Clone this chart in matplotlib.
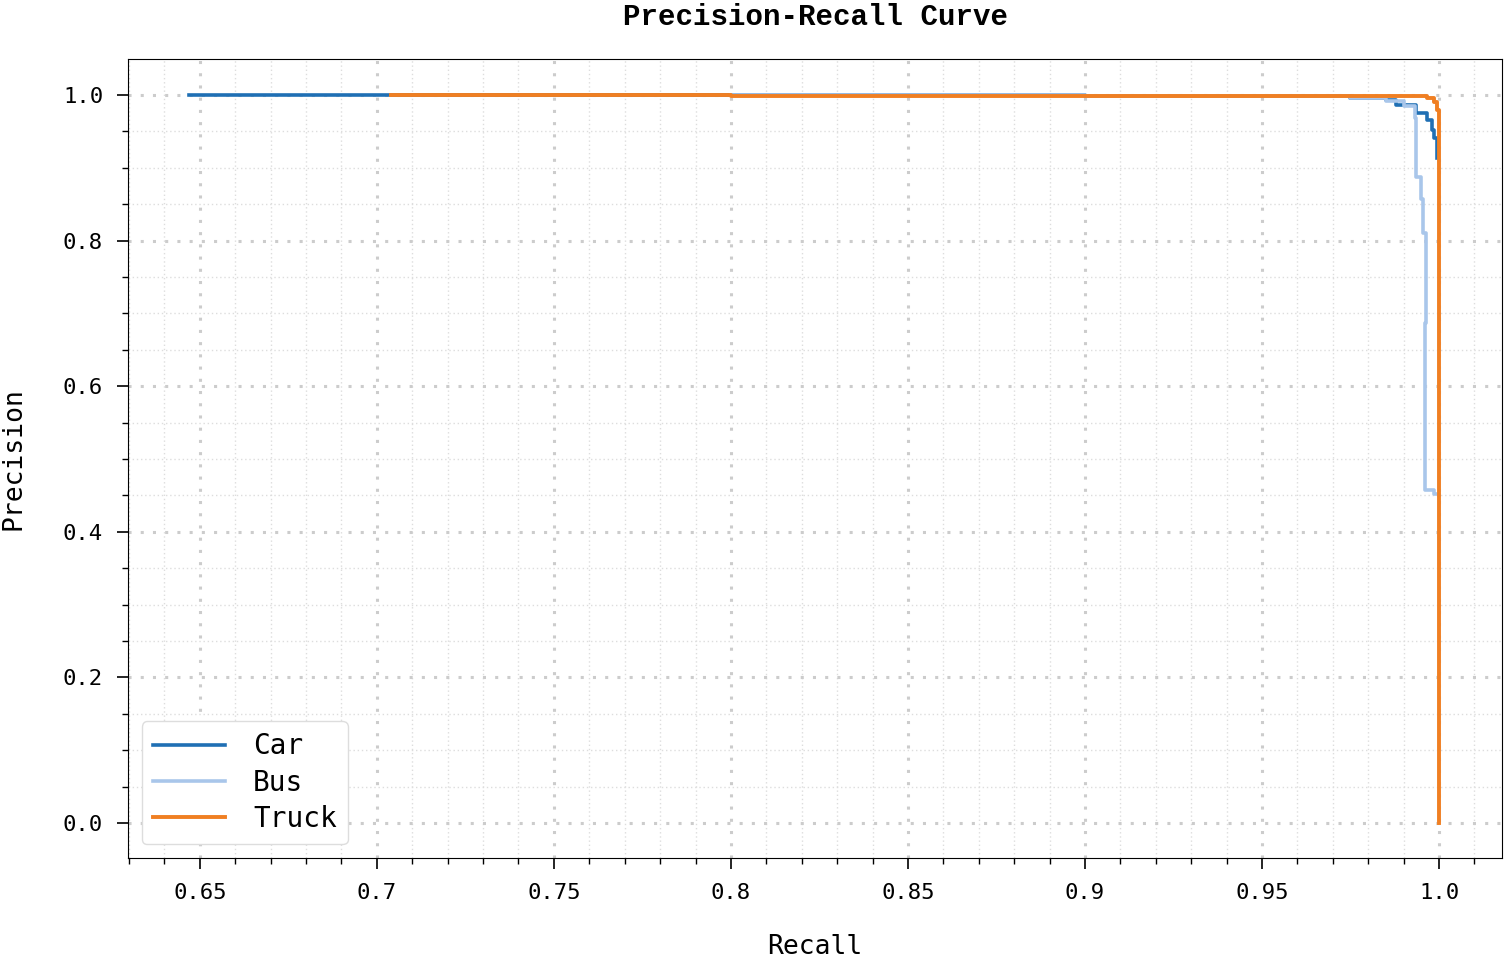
import matplotlib
matplotlib.use("Agg")
import matplotlib.pyplot as plt
from matplotlib.ticker import MultipleLocator

car_recall = [0.647, 0.80, 0.90, 0.95, 0.975, 0.985, 0.988, 0.9935, 0.9966, 0.998, 0.9986, 0.9994]
car_prec   = [1.000, 1.000, 0.999, 0.998, 0.996, 0.993, 0.986, 0.975, 0.966, 0.952, 0.941, 0.913]
bus_recall = [0.80, 0.84, 0.90, 0.95, 0.975, 0.985, 0.990, 0.9932, 0.9935, 0.9948, 0.9955, 0.9962, 0.9960, 0.9985, 1.0]
bus_prec   = [1.000, 1.000, 0.999, 0.998, 0.996, 0.992, 0.985, 0.968, 0.887, 0.857, 0.810, 0.687, 0.458, 0.452, 0.450]
truck_recall = [0.704, 0.80, 0.90, 0.95, 0.988, 0.9966, 0.9985, 0.9995, 1.0, 1.0]
truck_prec   = [1.000, 0.999, 0.999, 0.998, 0.998, 0.996, 0.99, 0.98, 0.90, 0.0]

fig = plt.figure(figsize=(15.10, 9.61), dpi=100)
ax = fig.add_axes([128/1510, 1-858/961, (1502-128)/1510, (858-59)/961])
mono = "DejaVu Sans Mono"
ax.step(car_recall, car_prec, where="post", color="#1f6fb4", lw=2.6, label="Car")
ax.step(bus_recall, bus_prec, where="post", color="#a9c6ea", lw=2.6, label="Bus")
ax.step(truck_recall, truck_prec, where="post", color="#f07f22", lw=2.8, label="Truck")
ax.set_xlim(0.6297, 1.0178)
ax.set_ylim(-0.048, 1.0495)
ax.xaxis.set_minor_locator(MultipleLocator(0.01))
ax.yaxis.set_minor_locator(MultipleLocator(0.05))
ax.set_xticks([0.65, 0.7, 0.75, 0.8, 0.85, 0.9, 0.95, 1.0])
ax.set_xticklabels(["0.65", "0.7", "0.75", "0.8", "0.85", "0.9", "0.95", "1.0"])
ax.set_yticks([0.0, 0.2, 0.4, 0.6, 0.8, 1.0])
ax.set_yticklabels(["0.0", "0.2", "0.4", "0.6", "0.8", "1.0"])
ax.grid(which="major", color="#cccccc", ls=(0, (1, 3)), lw=2.2)
ax.grid(which="minor", color="#dddddd", ls=(0, (1, 2)), lw=1)
ax.tick_params(which="major", length=8, width=1.2, labelsize=16, pad=10)
ax.tick_params(which="minor", length=4, width=1)
for l in ax.get_xticklabels() + ax.get_yticklabels():
    l.set_fontfamily(mono)
ax.set_xlabel("Recall", fontsize=19, fontfamily=mono, labelpad=22)
ax.set_ylabel("Precision", fontsize=19, fontfamily=mono, labelpad=26)
fig.text(0.54, 0.982, "Precision-Recall Curve", ha="center", va="center",
         fontsize=21, fontweight="bold", fontfamily="Liberation Mono")
ax.legend(loc="lower left", prop={"family": mono, "size": 20},
          handlelength=2.6, borderpad=0.4, labelspacing=0.3, handletextpad=1.0,
          framealpha=1, edgecolor="#dddddd")
fig.savefig("out.png", dpi=100)
